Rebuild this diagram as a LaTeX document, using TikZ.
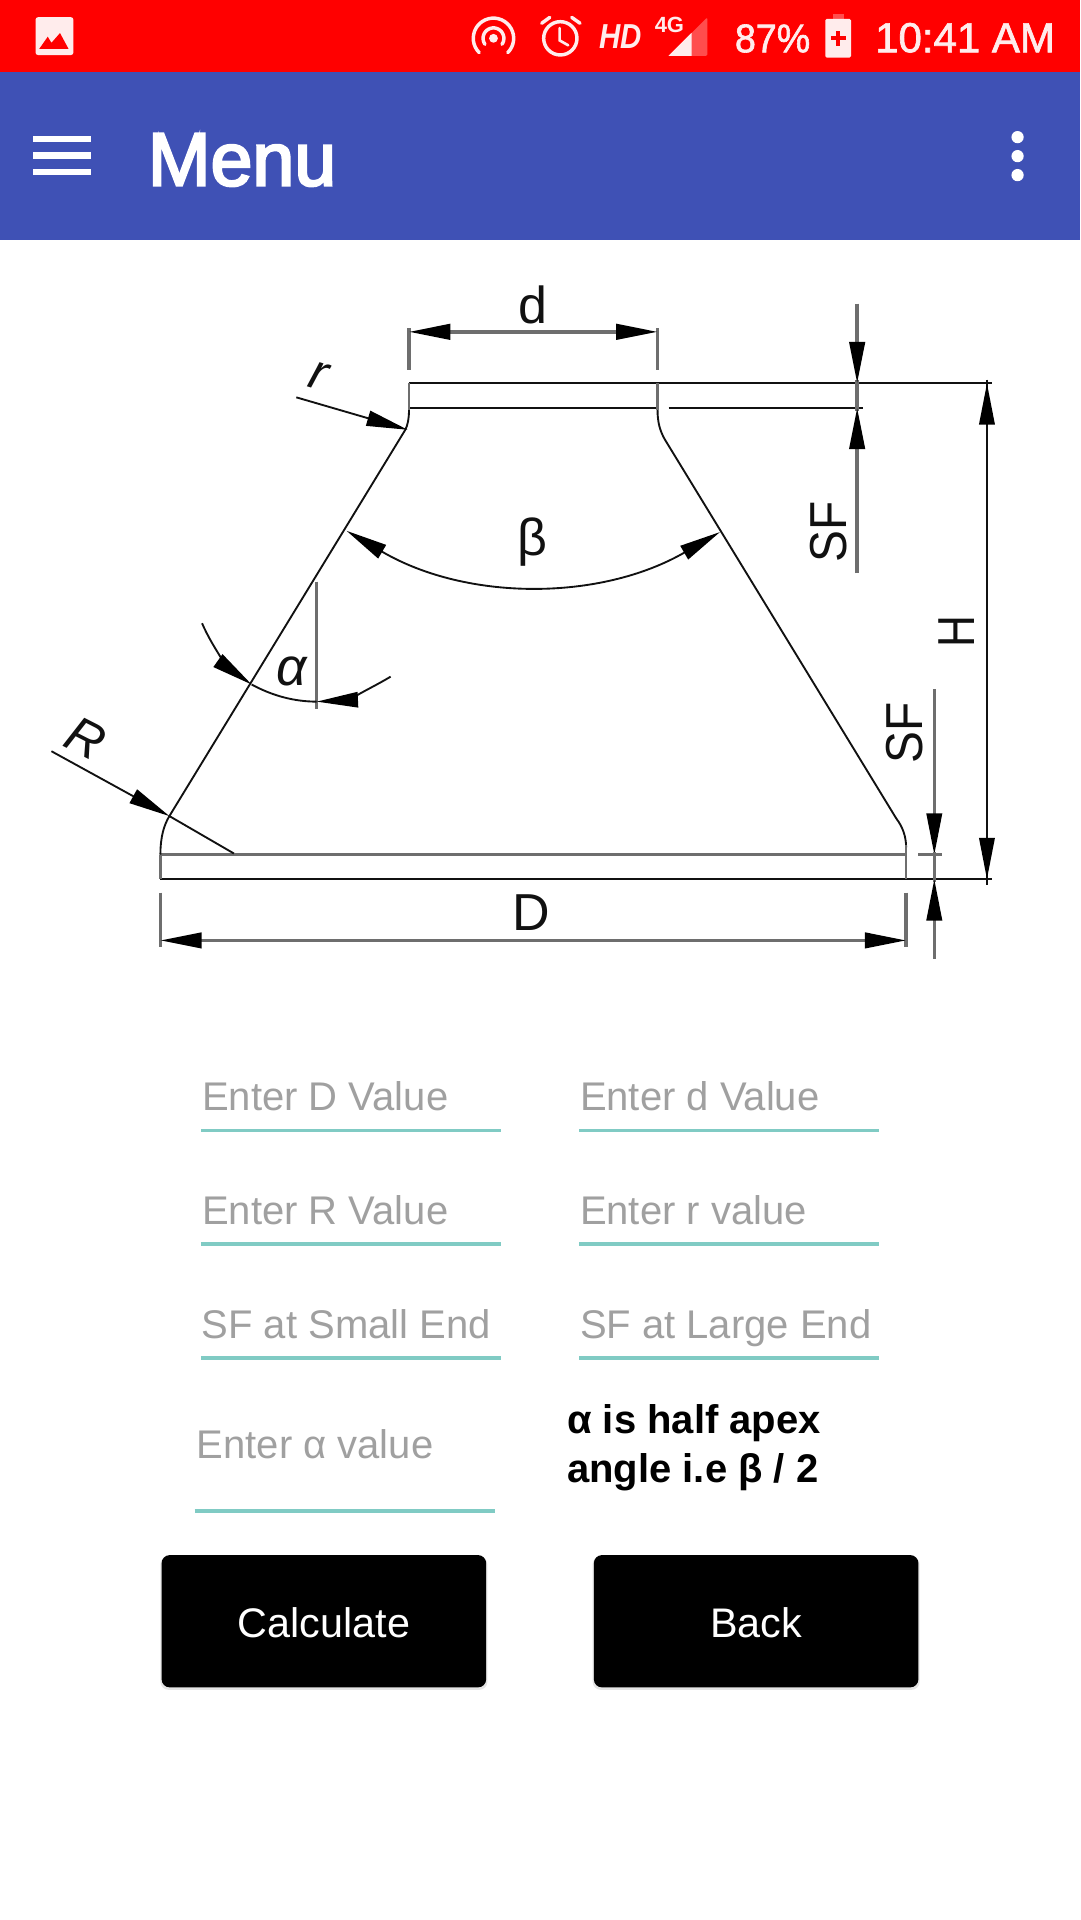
\documentclass[tikz,border=0pt]{standalone}
\usepackage{fontspec}
\usetikzlibrary{arrows.meta}
\setmainfont{Liberation Sans}
\newfontfamily\medfont[FakeBold=1.6]{Liberation Sans}
\newfontfamily\titlefont[FakeBold=3.2]{Liberation Sans}
\definecolor{barred}{HTML}{FF0000}
\definecolor{barblue}{HTML}{3F51B5}
\definecolor{iconlight}{HTML}{FFECEC}
\definecolor{iconmid}{HTML}{FF4D4D}
\definecolor{hinttext}{HTML}{A0A0A0}
\definecolor{fieldline}{HTML}{80CBC4}
\definecolor{dimgrey}{HTML}{6E6E6E}
\definecolor{inkdark}{HTML}{111111}
\newcommand{\fpx}[1]{\fontsize{#1}{#1}\selectfont}
\tikzset{
  dimhead/.tip={Triangle[length=31pt,width=11.5pt,color=black,fill=black]},
  thinline/.style={draw=inkdark,line width=1.4pt},
  softline/.style={draw=dimgrey,line width=2pt},
  greyline/.style={draw=dimgrey,line width=2.5pt},
  hinttxt/.style={anchor=base west,inner sep=0,text=hinttext,font=\fpx{30}},
  notetxt/.style={anchor=base west,inner sep=0,text=black,font=\bfseries\fpx{30}},
  fieldrule/.style={draw=fieldline,line width=2.4pt},
  btnbox/.style={fill=black,rounded corners=6pt},
  btntxt/.style={anchor=base,inner sep=0,text=white,font=\fpx{31}},
  labeltxt/.style={inner sep=0,text=inkdark,font=\fpx{39}},
  icondraw/.style={draw=iconlight,line width=2.6pt,line cap=round},
  statustxt/.style={anchor=base west,inner sep=0,text=iconlight},
}
\begin{document}
\begin{tikzpicture}[x=0.9184pt,y=-0.9184pt]
\path[use as bounding box,fill=white] (0,0) rectangle (882,1568);
% bars
\fill[barred] (0,0) rectangle (882,59);
\fill[barblue] (0,59) rectangle (882,196);
% picture icon
\fill[iconlight,rounded corners=2pt] (29,14) rectangle (60,45);
\fill[barred] (32,40) -- (39,30) -- (42,35) -- (49,27) -- (56,40) -- cycle;
% hotspot icon
\fill[iconlight] (403,31.3) circle[radius=3.6];
\draw[icondraw] plot[domain=-215:35,samples=24] ({403+8.5*cos(\x)},{31.3+8.5*sin(\x)});
\draw[icondraw] plot[domain=-225:45,samples=30] ({403+16.5*cos(\x)},{31.3+16.5*sin(\x)});
% alarm icon
\draw[icondraw] (457.6,31.3) circle[radius=13.6];
\draw[icondraw,line width=2pt] (457,23) -- (457,33) -- (464,37);
\draw[icondraw] (442.4,19) -- (449,14.2);
\draw[icondraw] (466.9,14.2) -- (473.7,19);
% network
\node[statustxt,font=\bfseries\itshape\fpx{26}] (hd) at (489,39.5) {\scalebox{0.85}[1]{HD}};
\node[statustxt,font=\bfseries\fpx{16.5}] (fourg) at (534.5,26.7) {4G};
\fill[iconmid,rounded corners=1pt] (545.8,45.7) -- (577.6,14.2) -- (577.6,45.7) -- cycle;
\fill[iconlight] (545.8,45.7) -- (564.8,26.8) -- (564.8,45.7) -- cycle;
% battery and texts
\node[statustxt,font=\medfont\fpx{30}] (pct) at (600,42.7) {\scalebox{0.94}[1]{87\%}};
\fill[iconmid] (680.6,11.7) rectangle (689,16);
\fill[iconlight,rounded corners=1pt] (674,15.5) rectangle (695,47);
\fill[barred] (678.6,29.8) rectangle (690.6,32.8);
\fill[barred] (683.1,25.3) rectangle (686.1,37.3);
\node[statustxt,font=\medfont\fpx{31.5}] (clock) at (714.5,42.7) {10:41 AM};
% app bar
\fill[white] (27,111) rectangle (74,116);
\fill[white] (27,124.5) rectangle (74,129.5);
\fill[white] (27,138) rectangle (74,143);
\node[anchor=base west,inner sep=0,text=white,font=\titlefont\fpx{56.5}] (menu) at (120.5,151.5) {Menu};
\fill[white] (831,112) circle[radius=5];
\fill[white] (831,127.5) circle[radius=5];
\fill[white] (831,143) circle[radius=5];

% --- drawing: body
\draw[thinline] (334,313) -- (810,313);
\draw[thinline] (334,333) -- (537,333);
\draw[thinline] (546,333) -- (705,333);
\draw[softline] (131,698) -- (740,698);
\draw[softline] (750,698) -- (769,698);
\draw[thinline,line width=1.7pt] (131,718) -- (810,718);
\draw[softline] (131,698) -- (131,718);
\draw[softline] (334,313) -- (334,335);
\draw[thinline] (334,335) .. controls (334,342) and (333,347) .. (331,351) -- (138,667)
   .. controls (134,674) and (131,683) .. (131,698);
\draw[softline] (537,313) -- (537,335);
\draw[thinline] (537,335) .. controls (537,345) and (539,352) .. (543,359) -- (732,668.5)
   .. controls (737,675) and (740,683) .. (740,692);
\draw[softline] (740,690) -- (740,718);

% d dimension
\draw[greyline] (334,268) -- (334,302);
\draw[greyline] (537,268) -- (537,302);
\draw[greyline,{dimhead}-{dimhead}] (334,271) -- (537,271);
\node[labeltxt] (labeld) at (435,249) {d};
% D dimension
\draw[greyline] (131,729) -- (131,773);
\draw[greyline] (740,729) -- (740,773);
\draw[greyline,{dimhead}-{dimhead}] (131,768) -- (740,768);
\node[labeltxt] (labelD) at (434,745) {D};
% upper SF
\draw[greyline] (700,310) -- (700,336);
\draw[greyline,-{dimhead}] (700,248) -- (700,313);
\draw[greyline,-{dimhead}] (700,468) -- (700,333);
\node[labeltxt,rotate=90] (labelsf) at (677,434.5) {\scalebox{0.92}[1]{SF}};
% lower SF
\draw[softline,-{dimhead}] (763,563) -- (763,698);
\draw[softline] (763,696) -- (763,720);
\draw[softline,-{dimhead}] (763,783) -- (763,718);
\node[labeltxt,rotate=90] (labelsfb) at (739,598.5) {\scalebox{0.92}[1]{SF}};
% H
\draw[thinline,line width=1.8pt] (806,310) -- (806,723);
\draw[thinline,line width=1.8pt,{dimhead}-{dimhead}] (806,313) -- (806,718);
\node[labeltxt,rotate=90] (labelH) at (781,515.5) {\scalebox{0.85}[1]{H}};
% r leader
\draw[thinline,-{dimhead}] (242,324.5) -- (333,351);
\node[labeltxt,font=\itshape\fpx{38},rotate=-17] (labelr) at (260,307) {r};
% R leader
\draw[thinline,-{dimhead}] (42,613.5) -- (138.4,666.5);
\draw[thinline] (138.4,666.5) -- (191,697);
\node[labeltxt,font=\itshape\fpx{38},rotate=-27] (labelR) at (70,603) {R};
% beta arc
\draw[thinline,{dimhead}-{dimhead}] (283,433.5) .. controls (381,491) and (490,491) .. (588,434.5);
\node[labeltxt] (labelb) at (434.5,443) {β};
% alpha
\draw[softline] (258.6,475) -- (258.6,579);
\draw[thinline,-{dimhead}] (165,509) .. controls (175,532) and (190,548) .. (205.5,559);
\draw[thinline] (205.5,559) .. controls (222,568) and (240,573) .. (258.6,573);
\draw[thinline,-{dimhead}] (319,552.6) .. controls (300,564) and (280,572) .. (258.6,573);
\node[labeltxt,font=\itshape\fpx{40}] (labela) at (238,548) {α};

% --- form
\node[hinttxt] (t1) at (165,907) {Enter D Value};
\node[hinttxt] (t2) at (473.5,907) {Enter d Value};
\node[hinttxt] (t3) at (165,1000) {Enter R Value};
\node[hinttxt] (t4) at (473.5,1000) {Enter r value};
\node[hinttxt] (t5) at (164.5,1093) {SF at Small End};
\node[hinttxt] (t6) at (473.5,1093) {SF at Large End};
\node[hinttxt] (t7) at (160.5,1191) {Enter α value};
\draw[fieldrule] (164,923) -- (409,923);
\draw[fieldrule] (473,923) -- (718,923);
\draw[fieldrule] (164,1016) -- (409,1016);
\draw[fieldrule] (473,1016) -- (718,1016);
\draw[fieldrule] (164,1109) -- (409,1109);
\draw[fieldrule] (473,1109) -- (718,1109);
\draw[fieldrule] (159,1234) -- (404,1234);
\node[notetxt] (n1) at (463,1171) {α is half apex};
\node[notetxt] (n2) at (463,1211) {angle i.e β / 2};
% buttons
\fill[black!10,rounded corners=6pt] (131,1271) rectangle (398,1380);
\fill[black!10,rounded corners=6pt] (484,1271) rectangle (751,1380);
\path[btnbox] (132,1270) rectangle (397,1378);
\path[btnbox] (485,1270) rectangle (750,1378);
\node[btntxt] (calc) at (264.5,1337) {Calculate};
\node[btntxt] (back) at (617.5,1337) {Back};
\end{tikzpicture}
\end{document}
